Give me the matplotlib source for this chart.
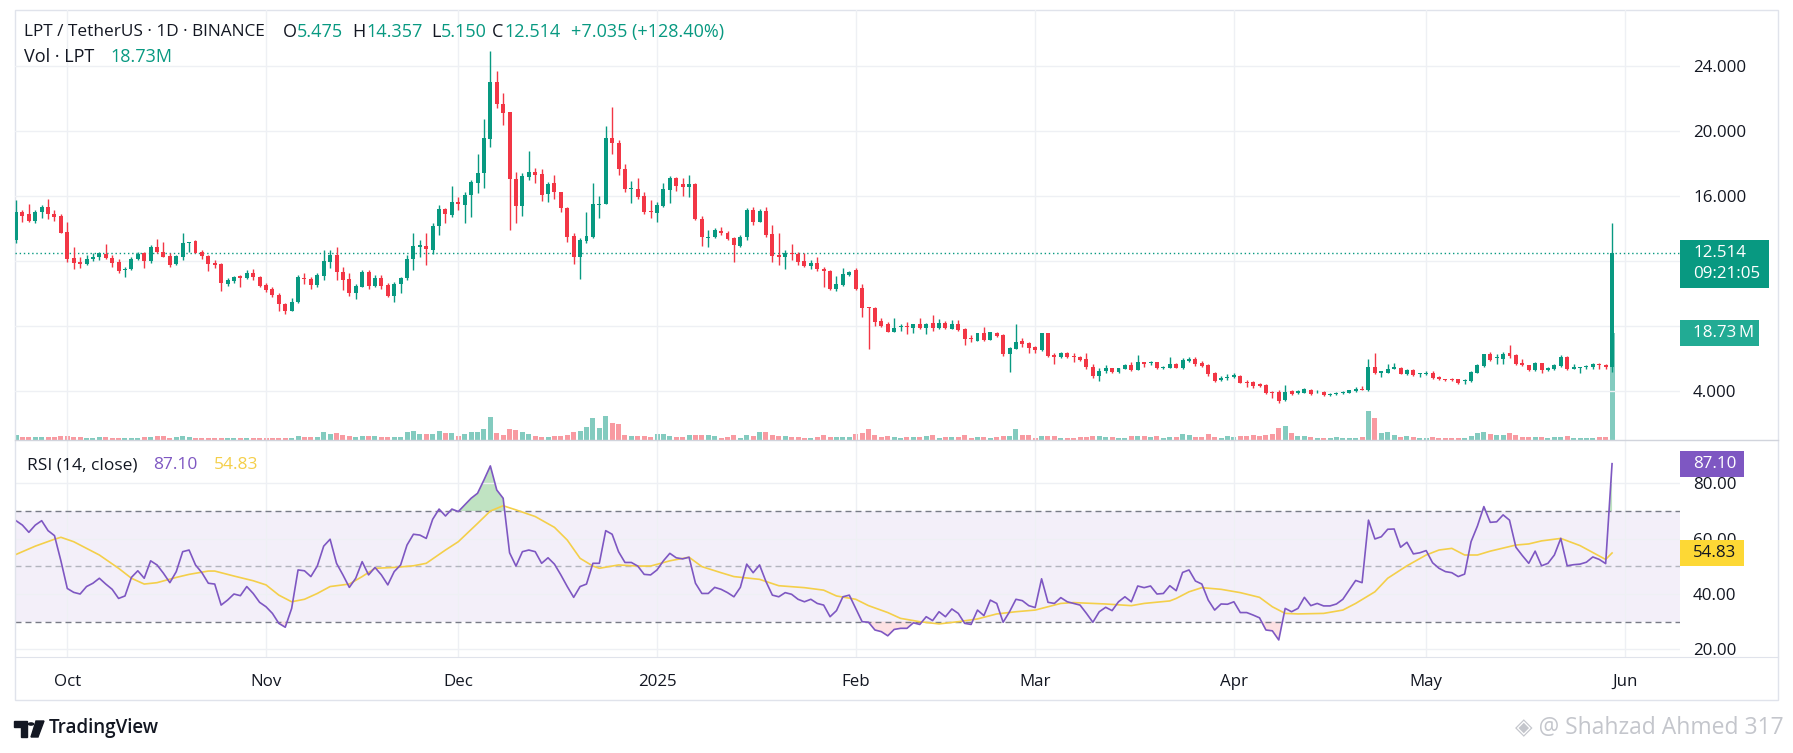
import matplotlib
matplotlib.use("Agg")
import matplotlib.pyplot as plt
import matplotlib.dates as mdates
from matplotlib.patches import Rectangle, Circle, Polygon
from matplotlib.ticker import FormatStrFormatter, FuncFormatter
import numpy as np
import pandas as pd

plt.rcParams['font.family'] = ['Open Sans', 'DejaVu Sans']

W, H = 1793, 753

# LPT / USDT daily candles, first candle 23 Sep 2024
opens = [
    13.29, 15.04, 14.87, 14.48, 14.99, 15.34, 14.89, 14.77, 13.80, 12.20,
    11.96, 11.79, 12.10, 12.22, 12.41, 12.16, 11.96, 11.44, 11.48, 12.10,
    12.47, 12.02, 12.84, 12.57, 12.30, 11.79, 12.26, 13.12, 13.23, 12.55,
    12.30, 11.85, 11.79, 10.58, 10.75, 11.07, 10.93, 11.24, 10.99, 10.50,
    10.25, 9.90, 9.33, 8.94, 9.45, 10.93, 10.87, 10.52, 11.09, 11.96,
    12.37, 11.34, 10.87, 10.01, 10.42, 11.34, 10.46, 10.93, 10.52, 9.84,
    10.58, 10.93, 12.10, 12.88, 12.94, 12.67, 14.17, 15.18, 14.83, 15.61,
    15.45, 16.06, 16.82, 17.40, 19.53, 23.00, 21.66, 21.15, 17.05, 15.40,
    17.19, 17.46, 17.33, 16.10, 16.78, 16.22, 15.26, 13.54, 12.26, 13.25,
    13.50, 15.47, 15.49, 19.55, 19.28, 17.66, 16.41, 16.43, 16.00, 15.08,
    14.97, 15.40, 16.37, 17.13, 16.72, 16.53, 16.74, 14.58, 13.43, 13.50,
    13.85, 13.74, 13.39, 12.94, 13.45, 15.14, 14.42, 15.10, 13.64, 12.37,
    12.22, 12.51, 12.43, 12.00, 11.71, 11.85, 11.52, 11.38, 10.27, 10.52,
    11.13, 11.44, 10.31, 9.14, 9.08, 8.30, 8.09, 7.64, 7.93, 7.99,
    7.85, 8.09, 7.85, 8.16, 7.89, 8.16, 7.81, 8.09, 7.81, 7.23,
    7.09, 7.54, 7.13, 7.58, 7.44, 6.25, 6.58, 7.09, 6.92, 6.72,
    6.51, 7.54, 6.21, 6.06, 6.35, 6.17, 6.10, 5.96, 5.49, 4.91,
    5.22, 5.39, 5.18, 5.34, 5.59, 5.28, 5.76, 5.69, 5.76, 5.43,
    5.43, 5.63, 5.39, 5.84, 5.96, 5.73, 5.59, 5.08, 4.67, 4.81,
    4.87, 4.93, 4.56, 4.52, 4.42, 4.36, 3.89, 3.95, 3.44, 3.99,
    3.84, 3.88, 4.08, 3.90, 3.94, 3.73, 3.79, 3.84, 3.88, 3.98,
    4.14, 4.04, 5.48, 5.13, 5.13, 5.37, 5.42, 5.03, 5.27, 5.01,
    5.05, 5.13, 4.86, 4.76, 4.72, 4.72, 4.60, 4.60, 5.13, 5.52,
    6.26, 6.03, 5.99, 6.36, 6.20, 5.72, 5.58, 5.27, 5.72, 5.27,
    5.33, 5.54, 6.09, 5.37, 5.40, 5.46, 5.48, 5.64, 5.58, 5.475,
]
highs = [
    15.75, 15.14, 15.51, 15.14, 15.45, 15.79, 15.14, 14.89, 14.38, 12.88,
    12.26, 12.37, 12.51, 12.57, 13.04, 12.37, 12.10, 11.65, 12.26, 12.57,
    12.57, 12.98, 13.35, 13.19, 12.47, 12.37, 13.70, 13.19, 13.29, 12.67,
    12.37, 12.06, 11.85, 10.93, 11.09, 11.13, 11.44, 11.48, 11.07, 10.62,
    10.38, 10.01, 9.43, 9.70, 11.13, 11.24, 11.03, 11.28, 12.67, 12.67,
    12.84, 11.65, 11.24, 10.58, 11.44, 11.44, 11.13, 11.13, 10.62, 10.72,
    11.03, 12.37, 13.70, 13.29, 13.74, 14.32, 15.45, 15.24, 16.62, 15.96,
    16.27, 16.98, 18.59, 20.72, 24.90, 23.70, 22.36, 21.19, 17.50, 17.40,
    18.79, 17.70, 17.64, 16.88, 17.29, 16.27, 15.34, 13.70, 13.39, 15.04,
    16.78, 16.00, 20.31, 21.46, 19.45, 17.97, 16.94, 17.09, 16.27, 15.75,
    15.65, 16.78, 17.23, 17.19, 17.09, 17.29, 16.78, 14.77, 13.91, 14.01,
    14.11, 13.87, 13.50, 13.60, 15.28, 15.34, 15.18, 15.34, 14.21, 13.70,
    12.67, 13.04, 12.53, 12.51, 12.06, 12.22, 11.65, 11.44, 11.09, 11.55,
    11.40, 11.58, 10.56, 9.18, 9.18, 8.50, 8.26, 8.46, 8.09, 8.26,
    8.09, 8.50, 8.16, 8.67, 8.42, 8.30, 8.36, 8.36, 7.89, 7.44,
    7.58, 7.95, 7.64, 7.64, 7.48, 6.72, 8.09, 7.23, 6.99, 6.78,
    7.54, 7.54, 6.31, 6.41, 6.41, 6.31, 6.17, 6.31, 5.63, 5.39,
    5.59, 5.43, 5.43, 5.63, 5.76, 6.21, 5.76, 5.84, 5.80, 5.53,
    6.10, 5.69, 6.00, 6.10, 6.10, 5.84, 5.63, 5.18, 4.93, 5.02,
    5.12, 4.97, 4.67, 4.60, 4.46, 4.42, 3.99, 4.05, 4.36, 4.05,
    4.04, 4.18, 4.10, 4.04, 4.00, 3.84, 3.94, 3.98, 4.08, 4.25,
    4.31, 5.99, 6.36, 5.21, 5.68, 5.74, 5.48, 5.33, 5.33, 5.11,
    5.21, 5.21, 4.90, 4.76, 4.80, 4.76, 4.76, 5.23, 5.68, 6.30,
    6.40, 6.30, 6.40, 6.81, 6.30, 5.95, 5.62, 5.79, 5.74, 5.48,
    5.68, 6.20, 6.15, 5.68, 5.48, 5.58, 5.72, 5.74, 5.68, 14.357,
]
lows = [
    13.08, 14.42, 14.42, 14.32, 14.62, 14.56, 14.48, 13.70, 11.96, 11.50,
    11.55, 11.75, 12.02, 12.06, 12.10, 11.65, 11.24, 11.03, 11.44, 12.06,
    11.55, 11.89, 12.47, 12.22, 11.65, 11.75, 12.06, 12.57, 12.47, 12.10,
    11.40, 11.55, 10.17, 10.46, 10.66, 10.42, 10.87, 10.83, 10.38, 10.11,
    9.80, 8.94, 8.73, 8.94, 9.39, 10.58, 10.25, 10.42, 10.83, 11.55,
    10.83, 10.21, 9.84, 9.64, 10.38, 10.25, 10.42, 10.25, 9.76, 9.49,
    10.01, 10.83, 11.44, 12.26, 11.75, 12.43, 13.60, 14.32, 14.73, 15.14,
    14.32, 14.73, 16.21, 16.47, 19.04, 21.44, 20.37, 13.91, 14.32, 14.77,
    16.98, 16.78, 15.71, 15.65, 15.79, 15.04, 13.19, 11.79, 10.87, 13.13,
    13.43, 14.62, 15.49, 18.59, 17.29, 16.27, 15.55, 15.79, 14.89, 14.62,
    14.42, 15.34, 15.55, 16.33, 16.00, 15.96, 14.52, 12.92, 12.88, 13.39,
    13.60, 13.29, 11.96, 12.88, 13.29, 14.21, 14.38, 13.50, 11.96, 11.75,
    11.48, 12.06, 11.75, 11.61, 11.48, 11.40, 10.42, 10.21, 10.17, 10.46,
    11.05, 10.21, 8.57, 6.56, 8.01, 7.95, 7.60, 7.60, 7.68, 7.48,
    7.54, 7.81, 7.48, 7.68, 7.81, 7.81, 7.81, 7.68, 6.82, 7.03,
    7.07, 7.07, 7.13, 7.34, 6.17, 5.14, 6.56, 6.72, 6.31, 6.31,
    6.45, 6.10, 5.63, 6.04, 6.04, 5.80, 5.84, 5.34, 4.77, 4.60,
    5.12, 5.08, 5.12, 5.32, 5.24, 5.28, 5.45, 5.59, 5.34, 5.32,
    5.39, 5.39, 5.34, 5.76, 5.55, 5.49, 4.93, 4.56, 4.60, 4.67,
    4.77, 4.46, 4.26, 4.20, 4.22, 3.78, 3.54, 3.23, 3.39, 3.74,
    3.79, 3.84, 3.77, 3.84, 3.69, 3.69, 3.73, 3.79, 3.84, 3.94,
    4.04, 4.00, 5.01, 4.86, 5.11, 5.37, 5.01, 4.96, 4.90, 4.86,
    4.96, 4.76, 4.66, 4.62, 4.62, 4.45, 4.45, 4.55, 5.11, 5.48,
    5.85, 5.68, 5.64, 6.05, 5.58, 5.52, 5.23, 5.21, 5.13, 5.21,
    5.31, 5.48, 5.31, 5.33, 5.11, 5.37, 5.37, 5.37, 5.37, 5.150,
]
closes = [
    15.04, 14.79, 14.46, 15.04, 15.34, 14.89, 14.73, 13.74, 12.12, 11.85,
    11.81, 12.10, 12.26, 12.47, 12.16, 11.89, 11.38, 11.52, 12.10, 12.41,
    12.02, 12.88, 12.53, 12.26, 11.75, 12.30, 13.08, 13.19, 12.51, 12.30,
    11.79, 11.77, 10.66, 10.83, 10.99, 10.93, 11.24, 10.99, 10.46, 10.21,
    9.90, 9.33, 8.94, 9.45, 10.99, 10.87, 10.52, 11.13, 12.00, 12.37,
    11.30, 10.83, 10.01, 10.46, 11.34, 10.46, 10.93, 10.46, 9.84, 10.58,
    10.93, 12.12, 12.92, 12.98, 12.72, 14.17, 15.20, 14.89, 15.61, 15.49,
    16.06, 16.88, 17.40, 19.55, 23.00, 21.64, 21.13, 17.05, 15.40, 17.23,
    17.46, 17.29, 16.06, 16.74, 16.22, 15.24, 13.50, 12.26, 13.29, 13.54,
    15.51, 15.51, 19.55, 19.24, 17.64, 16.41, 16.47, 15.92, 15.04, 14.99,
    15.45, 16.41, 17.13, 16.62, 16.53, 16.74, 14.56, 13.45, 13.50, 13.91,
    13.70, 13.35, 12.98, 13.50, 15.14, 14.42, 15.10, 13.60, 12.33, 12.22,
    12.51, 12.43, 11.96, 11.71, 11.85, 11.48, 11.38, 10.27, 10.56, 11.17,
    11.30, 10.27, 9.08, 9.08, 8.22, 8.01, 7.64, 7.89, 7.99, 7.91,
    8.09, 7.85, 8.12, 7.85, 8.16, 7.85, 8.12, 7.75, 7.17, 7.17,
    7.54, 7.13, 7.60, 7.40, 6.25, 6.62, 7.03, 6.86, 6.62, 6.51,
    7.54, 6.17, 6.10, 6.31, 6.10, 6.06, 5.90, 5.45, 4.91, 5.24,
    5.43, 5.14, 5.39, 5.59, 5.28, 5.76, 5.67, 5.76, 5.39, 5.49,
    5.63, 5.43, 5.88, 5.96, 5.63, 5.55, 5.04, 4.63, 4.81, 4.87,
    4.97, 4.50, 4.46, 4.32, 4.30, 3.85, 3.85, 3.39, 3.95, 3.81,
    3.98, 4.10, 3.79, 3.94, 3.73, 3.79, 3.86, 3.94, 4.04, 4.14,
    4.08, 5.48, 5.07, 5.21, 5.37, 5.44, 5.03, 5.27, 4.96, 5.07,
    5.11, 4.82, 4.70, 4.66, 4.66, 4.51, 4.66, 5.17, 5.58, 6.24,
    5.93, 6.09, 6.26, 6.15, 5.64, 5.58, 5.27, 5.72, 5.27, 5.42,
    5.58, 6.09, 5.33, 5.44, 5.44, 5.52, 5.64, 5.58, 5.48, 12.514,
]
# volume in millions of LPT
volumes = [
    0.88, 0.58, 0.58, 0.58, 0.47, 0.47, 0.47, 0.64, 0.76, 0.58,
    0.47, 0.41, 0.29, 0.47, 0.47, 0.29, 0.29, 0.29, 0.41, 0.29,
    0.47, 0.58, 0.76, 0.70, 0.41, 0.47, 0.70, 0.47, 0.41, 0.41,
    0.41, 0.41, 0.41, 0.41, 0.29, 0.41, 0.41, 0.41, 0.41, 0.41,
    0.41, 0.41, 0.41, 0.41, 0.70, 0.47, 0.47, 0.47, 1.34, 1.05,
    1.17, 0.88, 0.70, 0.58, 0.70, 0.70, 0.70, 0.58, 0.47, 0.47,
    0.47, 1.34, 1.58, 0.99, 0.99, 1.05, 1.58, 1.28, 1.28, 0.70,
    0.99, 1.34, 1.34, 1.93, 4.08, 1.17, 0.88, 1.93, 1.75, 1.34,
    0.99, 0.70, 0.58, 0.58, 0.70, 0.76, 0.88, 1.34, 1.58, 2.22,
    3.79, 2.16, 4.20, 2.92, 2.74, 0.88, 0.76, 0.76, 0.70, 0.58,
    0.99, 0.99, 0.76, 0.58, 0.58, 0.88, 0.88, 0.88, 0.88, 0.70,
    0.41, 0.58, 0.88, 0.41, 0.88, 0.76, 1.34, 1.34, 0.88, 0.76,
    0.70, 0.58, 0.58, 0.41, 0.41, 0.58, 0.88, 0.47, 0.47, 0.58,
    0.47, 0.99, 1.17, 1.93, 0.88, 0.58, 0.70, 0.58, 0.29, 0.47,
    0.47, 0.58, 0.70, 0.88, 0.35, 0.47, 0.47, 0.58, 0.88, 0.41,
    0.58, 0.58, 0.35, 0.47, 0.70, 0.70, 1.93, 0.88, 0.88, 0.35,
    0.70, 0.70, 0.70, 0.35, 0.35, 0.35, 0.47, 0.58, 0.70, 0.70,
    0.58, 0.47, 0.35, 0.35, 0.70, 0.70, 0.70, 0.58, 0.70, 0.35,
    0.58, 0.58, 0.99, 0.88, 0.58, 0.58, 1.05, 0.58, 0.35, 0.70,
    0.58, 0.70, 0.70, 0.88, 0.70, 0.88, 1.05, 2.04, 2.45, 1.20,
    0.70, 0.70, 0.47, 0.29, 0.29, 0.35, 0.47, 0.29, 0.35, 0.35,
    0.58, 5.13, 3.79, 1.28, 1.40, 0.88, 0.58, 0.70, 0.47, 0.35,
    0.35, 0.47, 0.35, 0.35, 0.35, 0.35, 0.35, 0.70, 1.17, 1.40,
    1.05, 0.88, 0.88, 1.28, 0.88, 0.58, 0.47, 0.47, 0.47, 0.35,
    0.47, 0.47, 0.70, 0.35, 0.35, 0.35, 0.35, 0.58, 0.47, 18.73,
]
# RSI(14) per candle
rsi = [
    66.5, 64.9, 62.3, 64.9, 66.5, 62.9, 61.1, 52.0, 42.0, 40.6,
    40.0, 42.7, 43.9, 45.7, 43.6, 41.7, 38.4, 39.3, 46.0, 48.4,
    45.7, 52.0, 50.5, 47.5, 44.1, 48.1, 55.3, 55.9, 50.5, 47.7,
    43.9, 43.6, 36.0, 37.8, 40.0, 39.4, 42.7, 40.2, 37.0, 35.4,
    33.0, 29.4, 28.0, 34.8, 48.7, 48.4, 46.3, 50.1, 57.3, 59.8,
    51.1, 46.9, 42.4, 45.7, 51.7, 46.9, 49.6, 46.9, 43.3, 48.1,
    50.5, 57.7, 61.6, 61.3, 60.1, 67.0, 70.7, 68.2, 70.7, 69.8,
    72.2, 74.6, 76.4, 81.2, 86.3, 77.6, 74.6, 54.9, 50.1, 55.3,
    55.9, 55.3, 51.1, 53.1, 50.8, 46.9, 42.7, 38.8, 42.7, 43.6,
    51.1, 51.1, 62.9, 61.6, 55.3, 51.4, 51.4, 50.1, 47.1, 46.9,
    48.7, 52.0, 54.7, 53.1, 52.7, 53.3, 43.9, 40.2, 40.2, 42.4,
    41.7, 40.5, 39.0, 42.4, 50.8, 47.7, 50.5, 44.5, 39.6, 39.0,
    40.5, 39.9, 38.1, 37.2, 38.1, 36.6, 36.0, 31.8, 34.0, 39.0,
    39.6, 34.8, 30.0, 29.8, 27.0, 26.4, 24.9, 27.2, 27.6, 27.6,
    29.6, 29.0, 31.8, 30.4, 33.6, 31.8, 34.6, 33.0, 29.4, 29.0,
    34.2, 32.2, 37.8, 36.6, 29.8, 33.6, 38.1, 37.6, 35.8, 35.1,
    45.5, 37.0, 36.6, 38.7, 37.2, 36.6, 36.0, 33.0, 29.8, 33.6,
    35.2, 34.0, 37.2, 39.0, 37.2, 42.9, 42.3, 42.9, 40.0, 40.2,
    43.0, 41.2, 47.8, 48.7, 44.7, 43.6, 37.8, 34.2, 36.4, 36.3,
    37.2, 33.3, 33.3, 32.4, 31.4, 27.0, 26.7, 23.4, 34.8, 33.6,
    34.8, 38.8, 35.8, 36.6, 35.7, 35.7, 36.4, 38.1, 41.5, 44.9,
    44.1, 66.7, 59.9, 60.7, 63.4, 63.5, 56.9, 58.7, 54.5, 54.9,
    55.7, 51.3, 49.3, 48.1, 47.7, 46.3, 47.2, 58.9, 64.6, 71.6,
    65.9, 66.1, 68.6, 66.7, 56.9, 53.9, 51.1, 55.5, 50.2, 51.1,
    54.1, 60.1, 50.2, 50.6, 50.8, 51.5, 53.4, 52.5, 51.0, 87.1,
]
# RSI-based moving average, read at these candle numbers
rsi_ma_idx = [0, 3, 6, 7, 9, 13, 16, 18, 20, 22, 25, 27, 30, 31, 34, 37, 39, 41, 43, 45,
              47, 49, 52, 54, 56, 59, 62, 64, 67, 69, 72, 74, 76, 78, 81, 84, 86, 88, 90, 91,
              94, 97, 99, 102, 105, 107, 110, 112, 116, 119, 123, 126, 128, 131, 133, 136, 138, 141, 144, 147,
              150, 153, 156, 159, 163, 165, 170, 174, 176, 180, 181, 183, 185, 188, 191, 194, 196, 198, 200, 204,
              207, 209, 212, 214, 217, 220, 222, 224, 226, 228, 230, 234, 236, 238, 241, 244, 246, 248, 249]
rsi_ma_val = [54.3, 57.3, 59.8, 60.5, 58.9, 54.1, 49.3, 45.7, 43.6, 44.1, 46.0, 47.1, 48.3, 48.3, 46.5, 44.8, 43.3, 39.6, 37.2, 38.1,
              40.2, 42.7, 43.6, 46.3, 49.3, 49.6, 50.2, 51.1, 55.9, 58.9, 65.5, 70.0, 71.9, 70.4, 68.0, 64.1, 59.5, 52.9, 50.1, 49.3,
              50.5, 50.1, 50.1, 52.0, 53.3, 49.9, 47.7, 46.3, 45.3, 43.0, 42.3, 41.4, 39.3, 38.1, 35.8, 33.3, 31.2, 30.0, 29.2, 30.0,
              31.0, 32.8, 33.6, 34.2, 36.6, 36.9, 36.4, 35.8, 36.6, 37.5, 38.4, 40.8, 42.3, 41.7, 40.5, 38.8, 35.4, 33.0, 32.8, 33.0,
              34.2, 36.6, 40.8, 45.7, 50.2, 54.1, 55.9, 56.5, 54.1, 54.1, 55.5, 57.7, 58.1, 59.2, 60.1, 57.5, 55.0, 52.5, 54.83]

price_ticks = [4, 8, 12, 16, 20, 24]
price_hidden = [8, 12]          # covered by the value boxes on the scale
rsi_ticks = [20, 40, 60, 80]
rsi_bands = [30, 50, 70]
rsi_now = 87.10
rsi_ma_now = 54.83
change_text = "+7.035 (+128.40%)"
countdown = "09:21:05"

UP = "#089981"
DOWN = "#f23645"
TEXT = "#131722"
GRID = "#eef0f4"
BORDER = "#e0e3eb"
RSI_C = "#7e57c2"
MA_C = "#f4cf4a"


def frac_box(x0, y0, x1, y1):
    # picture pixels (origin top left) -> [left, bottom, width, height]
    return [x0 / W, 1 - y1 / H, (x1 - x0) / W, (y1 - y0) / H]


def put(x, y, s, color=TEXT, size=13, **kw):
    return fig.text(x / W, 1 - y / H, s, color=color, fontsize=size,
                    va="center", ha=kw.pop("ha", "left"), **kw)


def box(x0, y0, x1, y1, color):
    fig.add_artist(Rectangle((x0 / W, 1 - y1 / H), (x1 - x0) / W, (y1 - y0) / H,
                             transform=fig.transFigure, facecolor=color,
                             edgecolor="none", zorder=10))


def img_y(axis, v):
    return H - axis.transData.transform((0, v))[1]


fig = plt.figure(figsize=(W / 100, H / 100), dpi=100)
fig.patch.set_facecolor("white")

ax = fig.add_axes(frac_box(15, 10, 1680, 440))
rx = fig.add_axes(frac_box(15, 440, 1680, 657), sharex=ax)
vx = ax.twinx()
ax.set_zorder(vx.get_zorder() + 1)
ax.patch.set_visible(False)

dates = pd.date_range("2024-09-23", periods=len(closes), freq="D")
x = mdates.date2num(dates)
o, h, l, c = map(np.array, (opens, highs, lows, closes))
up = c >= o
cols = np.where(up, UP, DOWN)

# volume overlay
vcols = [(0.031, 0.6, 0.506, 0.5) if u else (0.949, 0.212, 0.271, 0.5) for u in up]
vx.bar(x, volumes, width=0.78, color=vcols, linewidth=0)
vx.set_ylim(0, 75.25)
vx.set_yticks([])
vx.tick_params(right=False, labelright=False)

# candles
ax.vlines(x, l, h, colors=cols, lw=1.0, zorder=3)
body_lo = np.minimum(o, c)
body_h = np.maximum(np.abs(c - o), 0.06)
ax.bar(x, body_h, bottom=body_lo, width=0.62, color=cols, linewidth=0, zorder=4)
ax.axhline(closes[-1], color=UP, lw=1.0, ls=(0, (1, 2)), zorder=2)

ax.set_xlim(x[0] - 0.16, x[0] + 259.6)
ax.set_ylim(0.975, 27.45)
ax.yaxis.tick_right()
ax.set_yticks(price_ticks)
ax.yaxis.set_major_formatter(FuncFormatter(
    lambda v, pos: "" if round(v) in price_hidden else f"{v:.3f}"))
ax.tick_params(axis="y", length=0, pad=9.4, labelsize=12.2, labelcolor=TEXT)
ax.tick_params(axis="x", length=0, labelbottom=False)
ax.grid(True, color=GRID, lw=1)

# RSI pane
r = np.array(rsi)
rx.axhspan(30, 70, color=RSI_C, alpha=0.09, lw=0)
for b in rsi_bands:
    rx.axhline(b, color="#787b86" if b != 50 else "#b2b5be", lw=1.0, ls=(0, (4.3, 2.9)))
rx.fill_between(x, r, 70, where=r > 70, interpolate=True, color="#4caf50", alpha=0.35, lw=0)
rx.fill_between(x, r, 30, where=r < 30, interpolate=True, color=DOWN, alpha=0.15, lw=0)
rx.plot(x[rsi_ma_idx], rsi_ma_val, color=MA_C, lw=1.2)
rx.plot(x, r, color=RSI_C, lw=1.2)
rx.set_ylim(17.24, 95.66)
rx.yaxis.tick_right()
rx.set_yticks(rsi_ticks)
rx.yaxis.set_major_formatter(FormatStrFormatter("%.2f"))
rx.tick_params(axis="y", length=0, pad=9.4, labelsize=12.2, labelcolor=TEXT)
rx.xaxis.set_major_locator(mdates.MonthLocator())
rx.xaxis.set_major_formatter(FuncFormatter(
    lambda v, pos: str(mdates.num2date(v).year) if mdates.num2date(v).month == 1
    else mdates.num2date(v).strftime("%b")))
rx.tick_params(axis="x", length=0, pad=12, labelsize=12.2, labelcolor=TEXT)
rx.grid(True, color=GRID, lw=1)

for a in (ax, rx, vx):
    for s in a.spines.values():
        s.set_visible(False)

# frame and pane separators
fig.add_artist(Rectangle((15 / W, 1 - 700 / H), 1763 / W, 690 / H, transform=fig.transFigure,
                         fill=False, edgecolor=BORDER, lw=1))
fig.add_artist(plt.Line2D([15 / W, 1778 / W], [1 - 440 / H] * 2, transform=fig.transFigure,
                          color="#d1d4dc", lw=1))
fig.add_artist(plt.Line2D([15 / W, 1778 / W], [1 - 657 / H] * 2, transform=fig.transFigure,
                          color=BORDER, lw=0.8))

# value boxes on the scales
yc = img_y(ax, closes[-1])
box(1680, yc - 12.7, 1769, yc + 35.3, UP)
put(1693, yc, f"{closes[-1]:.3f}", "white", 12.2, zorder=11)
put(1693, yc + 21.5, countdown, "white", 12.2, zorder=11)
yv = img_y(vx, volumes[-1])
box(1680, yv - 13, 1759, yv + 13, "#22ab94")
put(1693, yv, f"{volumes[-1]:.2f}\u2009M", "white", 12.2, zorder=11)
yr = img_y(rx, rsi_now)
box(1680, yr - 13, 1744, yr + 13, RSI_C)
put(1693, yr, f"{rsi_now:.2f}", "white", 12.2, zorder=11)
ym = img_y(rx, rsi_ma_now)
box(1680, ym - 13, 1744, ym + 13, "#fdd835")
put(1693, ym, f"{rsi_ma_now:.2f}", TEXT, 12.2, zorder=11)

# legends
put(24.5, 32, "LPT / TetherUS · 1D · BINANCE", size=12.4)
for lx, letter, vx_, val in [(283, "O", 297, opens[-1]), (352, "H", 366, highs[-1]),
                             (431, "L", 441, lows[-1]), (492, "C", 504, closes[-1])]:
    put(lx, 32, letter)
    put(vx_, 32, f"{val:.3f}", UP)
put(571, 32, change_text, UP)
put(24.5, 57, "Vol · LPT")
put(110, 57, f"{volumes[-1]:.2f}M", UP)
put(27, 465, "RSI (14, close)", size=12.5)
put(153, 465, f"{rsi_now:.2f}", RSI_C, 12.5)
put(214, 465, f"{rsi_ma_now:.2f}", MA_C, 12.5)

# footer: TradingView mark and watermark
fig.add_artist(Polygon([(14 / W, 1 - 721 / H), (27 / W, 1 - 721 / H), (27 / W, 1 - 737 / H),
                        (21 / W, 1 - 737 / H), (21 / W, 1 - 727 / H), (14 / W, 1 - 727 / H)],
                       closed=True, transform=fig.transFigure, color=TEXT))
fig.add_artist(Circle((31 / W, 1 - 724 / H), 2.6 / W, transform=fig.transFigure, color=TEXT))
fig.add_artist(Polygon([(36 / W, 1 - 721 / H), (44 / W, 1 - 721 / H), (38 / W, 1 - 737 / H),
                        (31 / W, 1 - 737 / H)], closed=True, transform=fig.transFigure, color=TEXT))
put(49, 728, "TradingView", TEXT, 13.5, fontweight="semibold")
put(1784, 727, "◈ @ Shahzad Ahmed 317", "#c4c6cc", 16.5, ha="right")

fig.savefig("out.png", dpi=100, facecolor="white")
